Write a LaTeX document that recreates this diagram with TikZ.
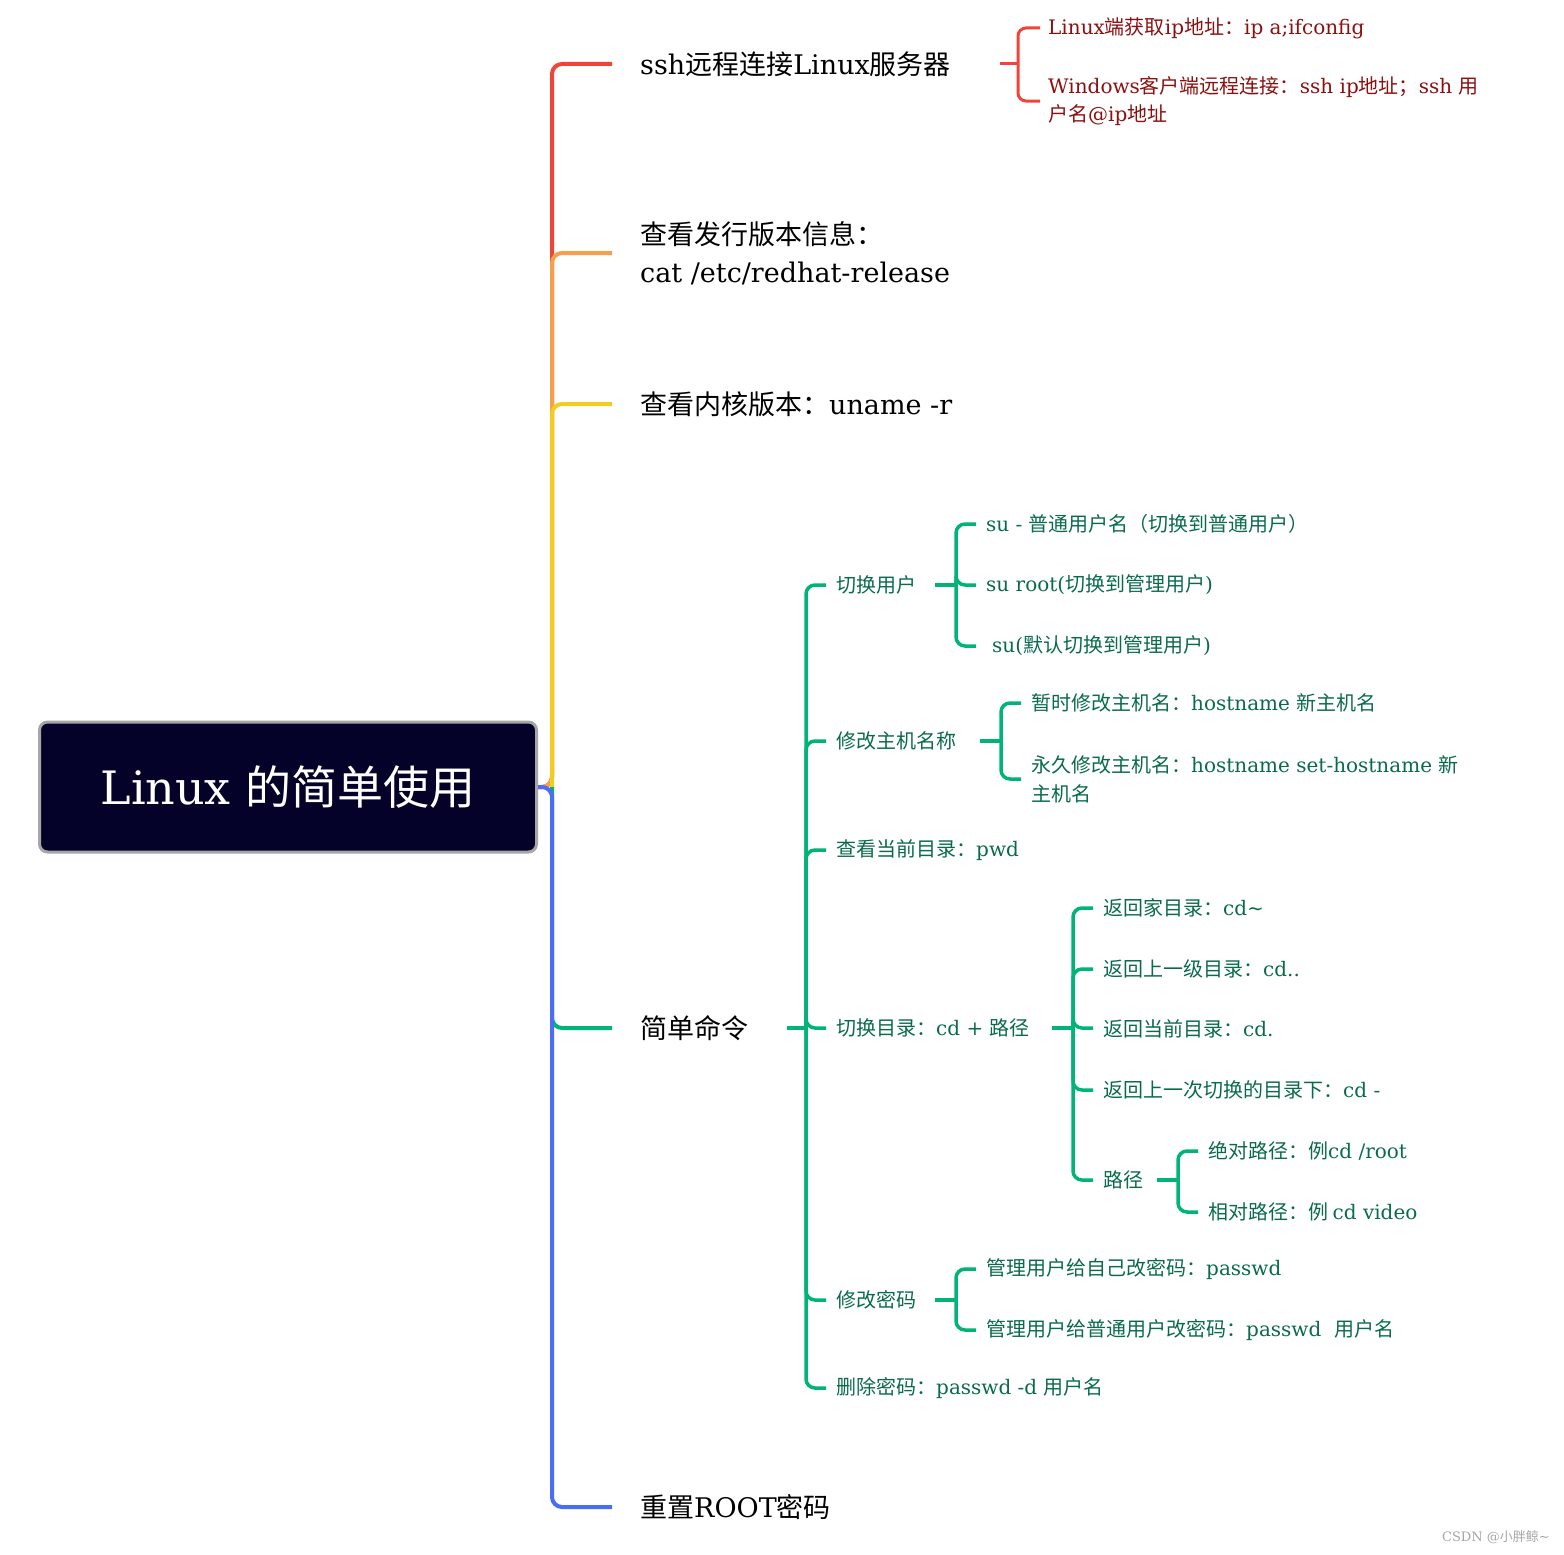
\documentclass[tikz,border=0pt]{standalone}
\usepackage{fontspec}
\setmainfont{DejaVu Serif}
\newfontfamily\cjkf{Noto Sans CJK SC}
\newfontfamily\latf{DejaVu Serif}
\newXeTeXintercharclass\cjkcls
\count255="3000 \loop \XeTeXcharclass\count255=\cjkcls \ifnum\count255<"303F \advance\count255 by 1 \repeat
\count255="4E00 \loop \XeTeXcharclass\count255=\cjkcls \ifnum\count255<"9FFF \advance\count255 by 1 \repeat
\count255="FF00 \loop \XeTeXcharclass\count255=\cjkcls \ifnum\count255<"FFEF \advance\count255 by 1 \repeat
\XeTeXinterchartoks 0 \cjkcls={\cjkf}
\XeTeXinterchartoks 4095 \cjkcls={\cjkf}
\XeTeXinterchartoks \cjkcls 0={\latf}
\XeTeXinterchartoks 4095 0={\latf}
\definecolor{cred}{HTML}{F04438}
\definecolor{corange}{HTML}{F5A04A}
\definecolor{cyellow}{HTML}{F2CD1F}
\definecolor{cgreen}{HTML}{00B377}
\definecolor{cblue}{HTML}{4A6CF7}
\definecolor{tred}{HTML}{8B1010}
\definecolor{tgreen}{HTML}{0A6B4C}
\definecolor{rootfill}{HTML}{05022A}
\tikzset{
  mainlab/.style={anchor=west,inner sep=0pt,font=\fontsize{27}{38}\selectfont,align=left},
  sublab/.style={anchor=west,inner sep=0pt,font=\fontsize{20}{29}\selectfont,text=tgreen,align=left},
  redlab/.style={anchor=west,inner sep=0pt,font=\fontsize{20}{28}\selectfont,text=tred,align=left},
  br/.style={line width=4pt,rounded corners=10pt},
  gl/.style={line width=3.5pt,color=cgreen,rounded corners=9pt},
}
\begin{document}
\XeTeXinterchartokenstate=1
\begin{tikzpicture}[x=1pt,y=-1pt]
\useasboundingbox (0,0) rectangle (1564,1555);
\node[draw=gray!70,line width=3pt,fill=rootfill,rounded corners=8pt,minimum width=497pt,minimum height=130pt,inner sep=0pt,text=white,font=\fontsize{46}{50}\selectfont] (root) at (288,787) {Linux 的简单使用};
% main labels
\node[mainlab] (b1) at (640,64) {ssh远程连接Linux服务器};
\node[mainlab] (b2) at (640,253) {查看发行版本信息：\\ cat /etc/redhat-release};
\node[mainlab] (b3) at (640,404) {查看内核版本：uname -r};
\node[mainlab] (b4) at (640,1028) {简单命令};
\node[mainlab] (b5) at (640,1507) {重置ROOT密码};
% main branches
\draw[br,cred] (root.east) -- (552,787) |- (612,64);
\draw[br,corange] (root.east) -- (552,787) |- (612,253);
\draw[br,cyellow] (552,787) |- (612,404);
\draw[br,cgreen] (552,787) |- (612,1028);
\draw[br,cblue] (root.east) -- (552,787) |- (612,1507);
% red children
\node[redlab] (r1) at (1048,28) {Linux端获取ip地址：ip a;ifconfig};
\node[redlab] (r2) at (1048,101) {Windows客户端远程连接：ssh ip地址；ssh 用\\户名@ip地址};
\coordinate (rj) at (1018,64);
\draw[line width=3pt,cred] (1000,64) -- (rj);
\draw[line width=3pt,cred,rounded corners=8pt] (rj) |- (1040,28);
\draw[line width=3pt,cred,rounded corners=8pt] (rj) |- (1040,101);
% green level 1
\node[sublab] (g1) at (836,585) {切换用户};
\node[sublab] (g2) at (836,741) {修改主机名称};
\node[sublab] (g3) at (836,850) {查看当前目录：pwd};
\node[sublab] (g4) at (836,1028) {切换目录：cd + 路径};
\node[sublab] (g5) at (836,1300) {修改密码};
\node[sublab] (g6) at (836,1388) {删除密码：passwd -d 用户名};
\coordinate (gj) at (806,1028);
\draw[gl] (787,1028) -- (gj);
\foreach \y in {585,741,850,1028,1300,1388} \draw[gl] (gj) |- (826,\y);
% 切换用户
\node[sublab] (h1) at (986,524) {su - 普通用户名（切换到普通用户）};
\node[sublab] (h2) at (986,585) {su root(切换到管理用户)};
\node[sublab] (h3) at (992,646) {su(默认切换到管理用户)};
\coordinate (hj) at (956,585);
\draw[gl] (935,585) -- (hj);
\foreach \y in {524,585,646} \draw[gl] (hj) |- (976,\y);
% 修改主机名称
\node[sublab] (k1) at (1031,703) {暂时修改主机名：hostname 新主机名};
\node[sublab] (k2) at (1031,779) {永久修改主机名：hostname set-hostname 新\\主机名};
\coordinate (kj) at (1001,741);
\draw[gl] (980,741) -- (kj);
\foreach \y in {703,779} \draw[gl] (kj) |- (1021,\y);
% 切换目录
\node[sublab] (d1) at (1103,908) {返回家目录：cd\textasciitilde};
\node[sublab] (d2) at (1103,969) {返回上一级目录：cd..};
\node[sublab] (d3) at (1103,1029) {返回当前目录：cd.};
\node[sublab] (d4) at (1103,1090) {返回上一次切换的目录下：cd -};
\node[sublab] (d5) at (1103,1180) {路径};
\coordinate (dj) at (1073,1028);
\draw[gl] (1052,1028) -- (dj);
\foreach \y in {908,969,1028,1090,1180} \draw[gl] (dj) |- (1093,\y);
% 路径
\node[sublab] (p1) at (1208,1151) {绝对路径：例cd /root};
\node[sublab] (p2) at (1208,1212) {相对路径：例 cd video};
\coordinate (pj) at (1178,1180);
\draw[gl] (1157,1180) -- (pj);
\foreach \y in {1151,1212} \draw[gl] (pj) |- (1198,\y);
% 修改密码
\node[sublab] (m1) at (986,1269) {管理用户给自己改密码：passwd};
\node[sublab] (m2) at (986,1330) {管理用户给普通用户改密码：passwd\ \ 用户名};
\coordinate (mj) at (956,1300);
\draw[gl] (935,1300) -- (mj);
\foreach \y in {1269,1330} \draw[gl] (mj) |- (976,\y);
% watermark
\node[anchor=east,inner sep=0pt,text=gray!70,font=\sffamily\fontsize{13}{15}\selectfont] (wm) at (1550,1537) {CSDN @小胖鲸\textasciitilde};
\end{tikzpicture}
\end{document}
